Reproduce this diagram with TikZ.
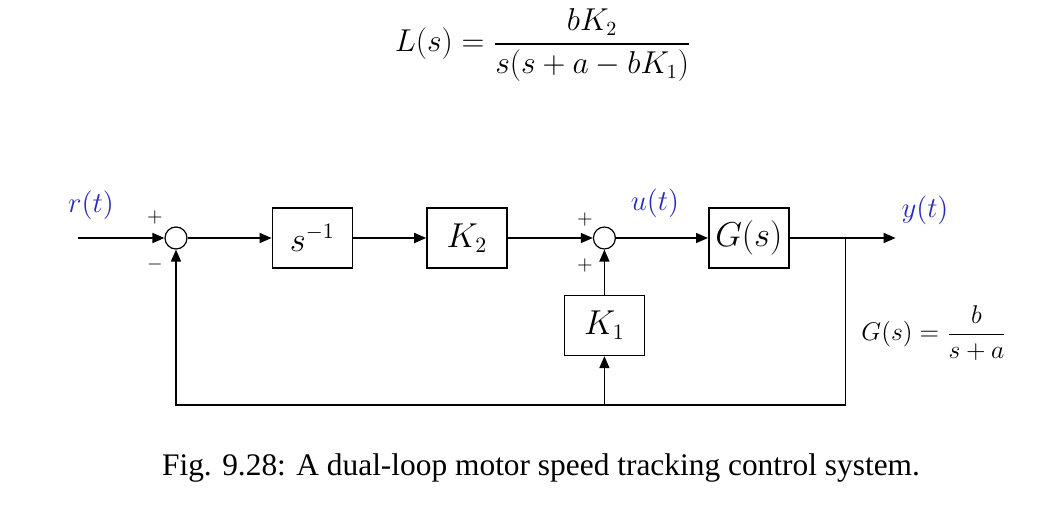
\documentclass[tikz,border=0pt]{standalone}
\usepackage{amsmath}
\usepackage{fontspec}
\setmainfont{Liberation Serif}
\usepackage{tikz}
\usetikzlibrary{arrows.meta, positioning, calc}
\definecolor{sigblue}{RGB}{40,40,190}

\begin{document}
\begin{tikzpicture}[
  x=0.5pt, y=-0.5pt,
  font=\fontsize{14}{16}\selectfont,
  blk/.style={rectangle, draw, line width=0.8pt, minimum width=40pt,
              minimum height=30pt, inner sep=0pt, font=\fontsize{16}{18}\selectfont},
  sumnode/.style={circle, draw, line width=0.6pt, minimum size=11pt, inner sep=0pt},
  sgn/.style={inner sep=0pt, font=\fontsize{10}{12}\selectfont},
  sig/.style={text=sigblue, inner sep=0pt},
  arr/.style={-{Triangle[length=6pt, width=5pt]}, line width=0.8pt},
  line/.style={line width=0.8pt}]
  \useasboundingbox (0,0) rectangle (1054,519);
  % loop gain
  \node (lgain) at (543,45) {\fontsize{16}{18}\selectfont
    \scalebox{0.915}{$L(s)=\dfrac{bK_2}{s(s+a-bK_1)}$}};
  % forward path
  \coordinate (inp) at (78,238);
  \node[sumnode] (sum1) at (176,238) {};
  \node[blk, right=42pt of sum1] (integ) {$s^{-1}$};
  \node[blk, right=36.5pt of integ] (k2) {$K_2$};
  \node[sumnode, right=42.5pt of k2] (sum2) {};
  \node[blk, right=46pt of sum2] (plant) {$G(s)$};
  \coordinate[right=28pt of plant] (br);
  \coordinate[right=53pt of plant] (outp);
  \node[blk, below=22.5pt of sum2] (k1) {$K_1$};
  \coordinate (bot) at (845,405);
  % labels
  \node[sig] (rlab) at (91,205) {$r(t)$};
  \node[sig] (ulab) at (655,203) {$u(t)$};
  \node[sig] (ylab) at (925,210) {$y(t)$};
  \node[sgn] (s1a) at (155,217) {$+$};
  \node[sgn] (s1b) at (155,264) {$-$};
  \node[sgn] (s2a) at (585,219) {$+$};
  \node[sgn] (s2b) at (585,265) {$+$};
  \node (gdef) at (934,333) {\fontsize{14}{16}\selectfont
    \scalebox{0.89}{$G(s)=\dfrac{b}{s+a}$}};
  % connectors
  \draw[arr] (inp) -- (sum1);
  \draw[arr] (sum1) -- (integ);
  \draw[arr] (integ) -- (k2);
  \draw[arr] (k2) -- (sum2);
  \draw[arr] (sum2) -- (plant);
  \draw[arr] (plant) -- (outp);
  \draw[arr] (br) |- (sum1 |- bot) -- (sum1);
  \draw[arr] (k1 |- bot) -- (k1);
  \draw[arr] (k1) -- (sum2);
  % caption
  \node (cap) at (541,468) {\fontsize{15.7}{18}\selectfont
    Fig. 9.28: A dual-loop motor speed tracking control system.};
\end{tikzpicture}
\end{document}
